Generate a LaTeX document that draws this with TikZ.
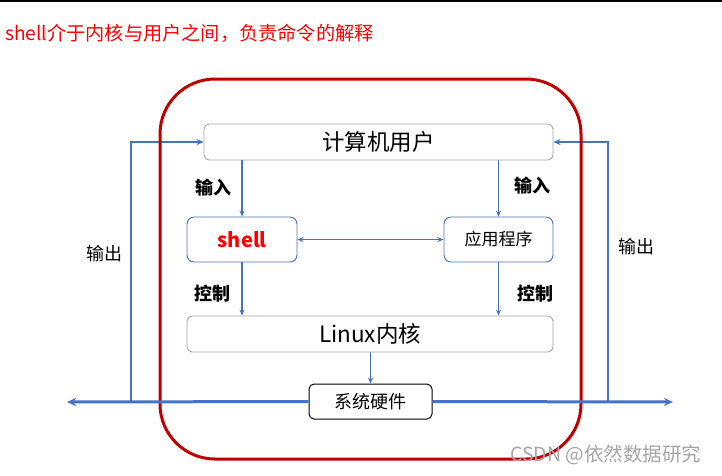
\documentclass[tikz,border=0pt]{standalone}
\usepackage{fontspec}
\setmainfont{Noto Sans CJK SC}
\usetikzlibrary{arrows.meta}
\definecolor{myblue}{HTML}{4472C4}
\definecolor{myred}{HTML}{C00000}
\definecolor{mygray}{HTML}{A6A6A6}
\tikzset{
  graybox/.style={draw=mygray, line width=0.9pt, rounded corners=5pt, inner sep=0pt},
  bluebox/.style={draw=myblue, line width=0.9pt, rounded corners=7pt, inner sep=0pt},
  blackbox/.style={draw=black, line width=1pt, rounded corners=5pt, inner sep=0pt},
  conn/.style={draw=myblue, line width=1.8pt, -{Stealth[length=6pt,width=5pt]}},
  biconn/.style={draw=myblue, line width=1.8pt, {Stealth[length=6pt,width=5pt]}-{Stealth[length=6pt,width=5pt]}},
  outline/.style={draw=myblue, line width=2pt, -{Stealth[length=7pt,width=6pt]}},
  baseline/.style={draw=myblue, line width=3pt, -{Stealth[length=9pt,width=8pt]}},
  boldlabel/.style={font=\fontsize{18}{21}\selectfont\bfseries},
  plainlabel/.style={font=\fontsize{18}{21}\selectfont},
}
\begin{document}
\begin{tikzpicture}[x=1pt,y=-1pt]
\useasboundingbox (0,0) rectangle (722,475);
\fill[white] (0,0) rectangle (722,475);
\draw[black, line width=2pt] (0,1) -- (722,1);
\node[anchor=west, text=red, font=\fontsize{19.2}{22}\selectfont, inner sep=0pt] (title) at (5,33) {shell介于内核与用户之间，负责命令的解释};

\node[graybox, minimum width=349pt, minimum height=36pt, font=\fontsize{22.5}{26}\selectfont] (user) at (378.5,142) {计算机用户};
\node[bluebox, minimum width=110pt, minimum height=45pt, font=\fontsize{20}{24}\selectfont\bfseries, text=red] (shell) at (242,239.5) {shell};
\node[bluebox, minimum width=109pt, minimum height=45pt, font=\fontsize{17}{20}\selectfont] (app) at (498.5,239.5) {应用程序};
\node[graybox, minimum width=366pt, minimum height=36pt, font=\fontsize{22.5}{26}\selectfont] (kernel) at (370,334) {Linux内核};
\node[blackbox, minimum width=123pt, minimum height=35pt, font=\fontsize{18}{21}\selectfont] (hw) at (370.5,401.5) {系统硬件};

\coordinate (lend) at (67,402);
\coordinate (rend) at (673,402);
\coordinate (lfoot) at (131,402);
\coordinate (rfoot) at (608,402);

\draw[outline] (lfoot) |- (user.west);
\draw[outline] (rfoot) |- (user.east);

\draw[draw=myred, line width=3pt, rounded corners=55pt] (160,79) rectangle (581,459);

\draw[conn] (user.south -| shell) -- (shell.north);
\draw[conn] (user.south -| app) -- (app.north);
\draw[biconn] (shell.east) -- (app.west);
\draw[conn] (shell.south) -- (kernel.north -| shell);
\draw[conn] (app.south) -- (kernel.north -| app);
\draw[conn] (kernel.south -| hw) -- (hw.north);

\draw[baseline] (hw.west) -- (lend);
\draw[baseline] (hw.east) -- (rend);

\node[boldlabel] (in1) at (213,188) {输入};
\node[boldlabel] (in2) at (532,186) {输入};
\node[boldlabel] (ctl1) at (212,294) {控制};
\node[boldlabel] (ctl2) at (535,294) {控制};
\node[plainlabel] (out1) at (104,254) {输出};
\node[plainlabel] (out2) at (636,247) {输出};

\node[anchor=west, text=gray!70, font=\fontsize{19.5}{23}\selectfont, inner sep=0pt] (wm) at (510,455) {CSDN @依然数据研究};
\end{tikzpicture}
\end{document}
